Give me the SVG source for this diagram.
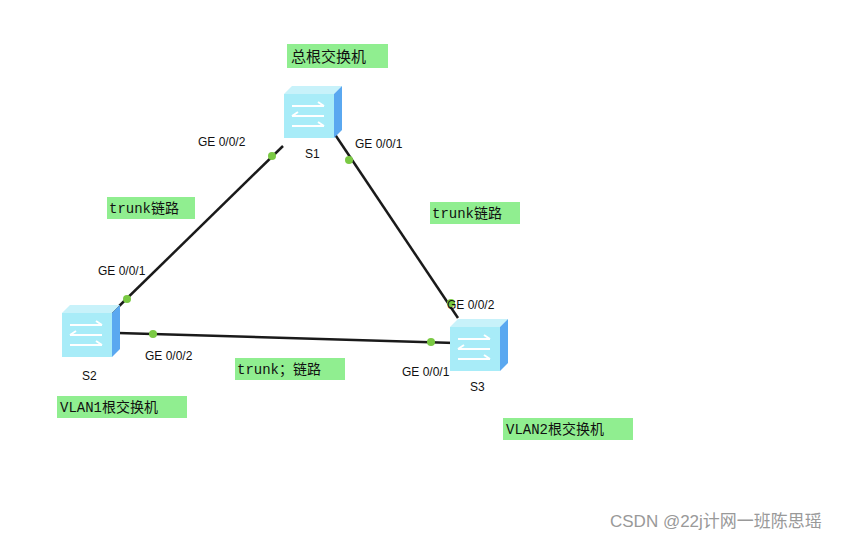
<svg xmlns="http://www.w3.org/2000/svg" width="866" height="539" viewBox="0 0 866 539">
<defs>
<style>
.l{stroke:#1a1a1a;stroke-width:2.5;fill:none}
.d{fill:#7ac943}
.t{font-family:"Liberation Sans",Arial,sans-serif;font-size:12px;fill:#111}
.g{fill:#90ee90}
.c{font-family:"Liberation Mono","Noto Sans CJK SC",monospace;font-size:14px;fill:#111}
.wm{font-family:"Liberation Sans","Noto Sans CJK SC",sans-serif;font-size:17px;fill:#999}
</style>
<g id="sw">
<path d="M0,8 L8,0 L58,0 L50,8 Z" fill="#c8f2fa"/>
<path d="M50,8 L58,0 L58,44 L50,52 Z" fill="#5aa8f0"/>
<rect x="0" y="8" width="50" height="44" fill="#a8ecf8"/>
<g stroke="#fff" stroke-width="2" fill="none">
<path d="M8,20 H40 M34,16 L40,20 M8,30 H40 M14,26 L8,30 M8,40 H40 M34,36 L40,40"/>
</g>
</g>
</defs>
<rect width="866" height="539" fill="#fff"/>
<g id="connectors">
<line class="l" x1="283" y1="146" x2="112" y2="313"/>
<line class="l" x1="334" y1="133" x2="458" y2="318"/>
<line class="l" x1="118" y1="333" x2="455" y2="343"/>
<circle class="d" cx="272" cy="156" r="4"/>
<circle class="d" cx="349" cy="160" r="4"/>
<circle class="d" cx="127" cy="299" r="4"/>
<circle class="d" cx="153" cy="334" r="4"/>
<circle class="d" cx="431" cy="342" r="4"/>
<circle class="d" cx="451" cy="303" r="4"/>
<rect class="g" x="107" y="197" width="88" height="22"/><text class="c" x="109" y="213">trunk链路</text>
<rect class="g" x="430" y="202" width="90" height="22"/><text class="c" x="432" y="218">trunk链路</text>
<rect class="g" x="235" y="358" width="110" height="22"/><text class="c" x="237" y="374">trunk；链路</text>
<text class="t" x="198" y="146">GE 0/0/2</text>
<text class="t" x="355" y="148">GE 0/0/1</text>
<text class="t" x="98" y="275">GE 0/0/1</text>
<text class="t" x="145" y="360">GE 0/0/2</text>
<text class="t" x="447" y="309">GE 0/0/2</text>
<text class="t" x="402" y="376">GE 0/0/1</text>
</g>
<g id="S1"><use href="#sw" x="284" y="86"/><text class="t" x="305" y="158">S1</text>
<rect class="g" x="287" y="44" width="101" height="24"/><text class="c" x="291" y="62" style="font-family:'Noto Sans CJK SC',sans-serif;font-size:15px">总根交换机</text></g>
<g id="S2"><use href="#sw" x="62" y="305"/><text class="t" x="82" y="380">S2</text>
<rect class="g" x="57" y="396" width="130" height="22"/><text class="c" x="60" y="412">VLAN1根交换机</text></g>
<g id="S3"><use href="#sw" x="450" y="319"/><text class="t" x="470" y="391">S3</text>
<rect class="g" x="503" y="418" width="130" height="22"/><text class="c" x="506" y="434">VLAN2根交换机</text></g>
<text class="wm" x="610" y="527">CSDN @22j计网一班陈思瑶</text>
</svg>
